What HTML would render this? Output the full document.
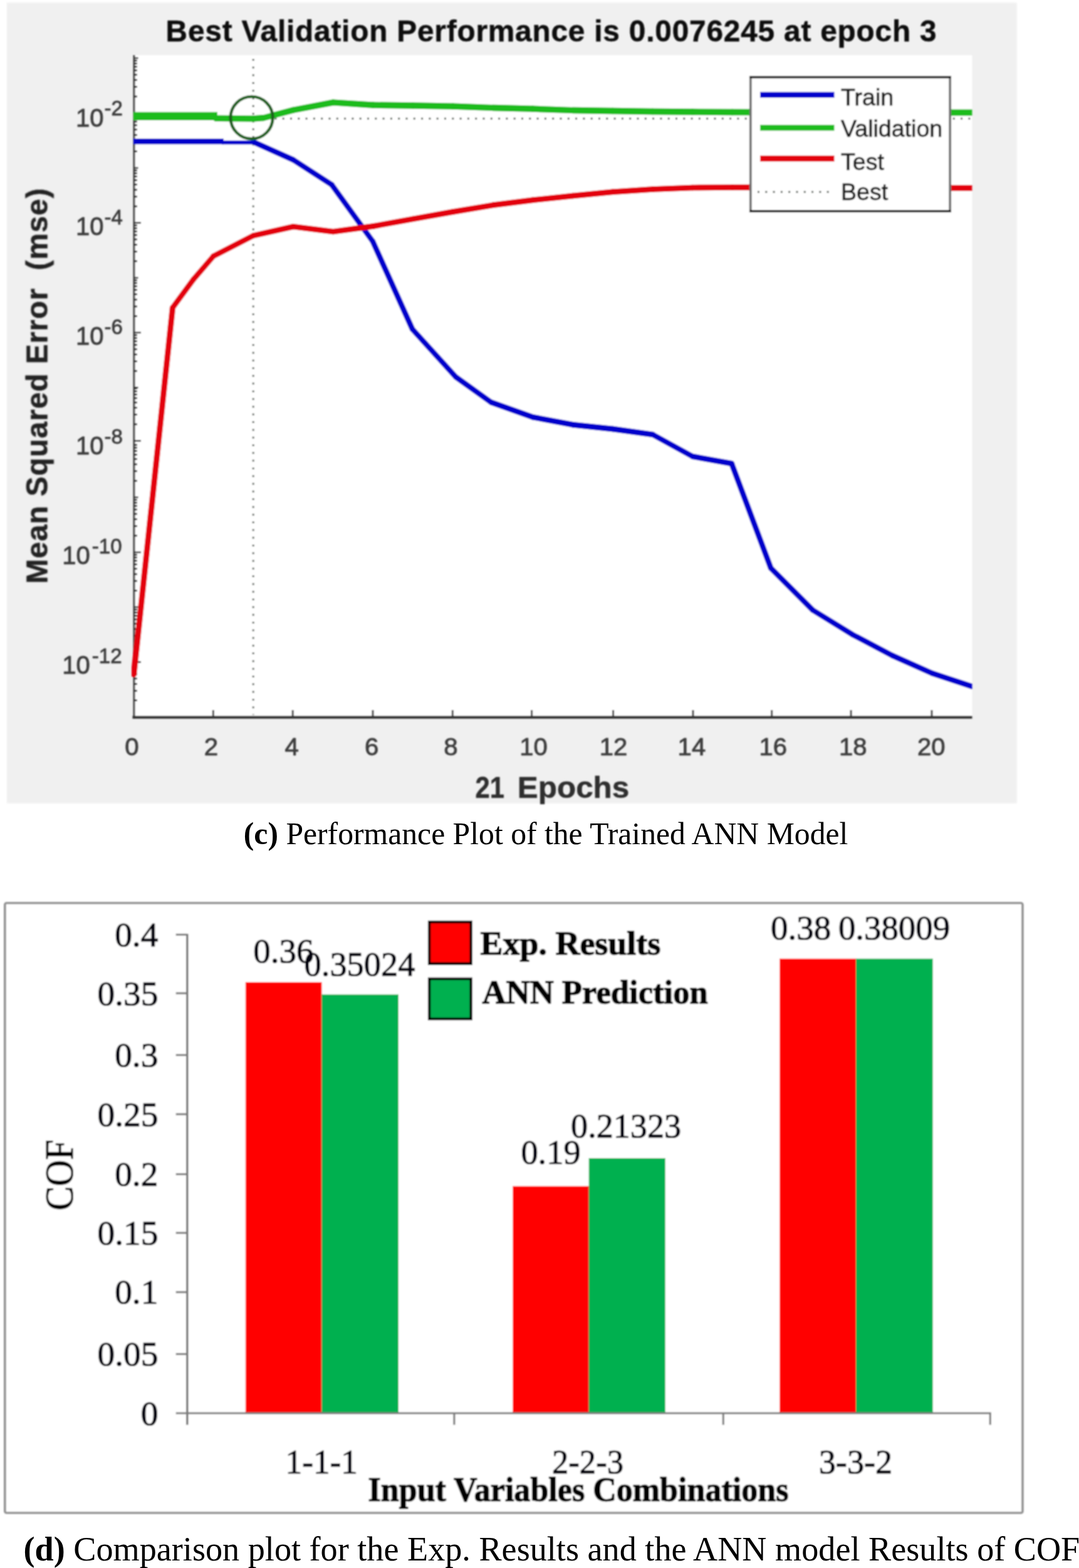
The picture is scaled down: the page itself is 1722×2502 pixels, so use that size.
<!DOCTYPE html>
<html lang="en"><head><meta charset="utf-8"><title>ANN performance plot and COF comparison</title>
<style>
html,body{margin:0;padding:0;background:#fff;}
body{width:1722px;height:2502px;overflow:hidden;position:relative;}
svg{position:absolute;left:0;top:0;display:block;}
.sans{font-family:"Liberation Sans",sans-serif;}
.serif{font-family:"Liberation Serif",serif;}
.b{font-weight:bold;}
.tk{stroke:currentColor;stroke-width:0.5px;stroke-linejoin:round;paint-order:stroke fill;}
.tk3{stroke:currentColor;stroke-width:1.1px;stroke-linejoin:round;paint-order:stroke fill;}
.tk4{stroke:currentColor;stroke-width:1.4px;stroke-linejoin:round;paint-order:stroke fill;}
.tk2{stroke:currentColor;stroke-width:0.85px;stroke-linejoin:round;paint-order:stroke fill;}
</style></head><body>
<svg width="1722" height="2502" viewBox="0 0 1722 2502">
<defs><filter id="soft" x="-2%" y="-2%" width="104%" height="104%"><feGaussianBlur stdDeviation="0.8"/></filter><filter id="soft2" x="-2%" y="-2%" width="104%" height="104%"><feGaussianBlur stdDeviation="1.1"/></filter><filter id="soft3" x="-2%" y="-2%" width="104%" height="104%"><feGaussianBlur stdDeviation="1.5"/></filter></defs>
<rect x="0" y="0" width="1722" height="2502" fill="#ffffff"/>
<rect x="11" y="4.3" width="1611.7" height="1277.4" fill="#f0f0f0" filter="url(#soft3)"/>
<g id="perf" filter="url(#soft)">
<rect x="213" y="88" width="1338.5" height="1056.5" fill="#ffffff"/>
<line x1="404.2" y1="94" x2="404.2" y2="1140.5" stroke="#586058" stroke-width="3" stroke-dasharray="3 9.3"/>
<line x1="217" y1="189.2" x2="1551.5" y2="189.2" stroke="#586058" stroke-width="3" stroke-dasharray="3 9.3"/>
<line x1="214" y1="88" x2="214" y2="1146.3" stroke="#484848" stroke-width="3.2"/>
<line x1="211.5" y1="1144.5" x2="1551.5" y2="1144.5" stroke="#303030" stroke-width="4.6"/>
<line x1="214" y1="1117.6" x2="219" y2="1117.6" stroke="#161616" stroke-width="2.7"/>
<line x1="214" y1="1102.2" x2="219" y2="1102.2" stroke="#161616" stroke-width="2.7"/>
<line x1="214" y1="1091.3" x2="219" y2="1091.3" stroke="#161616" stroke-width="2.7"/>
<line x1="214" y1="1082.8" x2="219" y2="1082.8" stroke="#161616" stroke-width="2.7"/>
<line x1="214" y1="1075.8" x2="219" y2="1075.8" stroke="#161616" stroke-width="2.7"/>
<line x1="214" y1="1070.0" x2="219" y2="1070.0" stroke="#161616" stroke-width="2.7"/>
<line x1="214" y1="1064.9" x2="219" y2="1064.9" stroke="#161616" stroke-width="2.7"/>
<line x1="214" y1="1060.4" x2="219" y2="1060.4" stroke="#161616" stroke-width="2.7"/>
<line x1="214" y1="1056.4" x2="225" y2="1056.4" stroke="#2a2a2a" stroke-width="2.6"/>
<line x1="214" y1="1030.0" x2="219" y2="1030.0" stroke="#161616" stroke-width="2.7"/>
<line x1="214" y1="1014.6" x2="219" y2="1014.6" stroke="#161616" stroke-width="2.7"/>
<line x1="214" y1="1003.7" x2="219" y2="1003.7" stroke="#161616" stroke-width="2.7"/>
<line x1="214" y1="995.2" x2="219" y2="995.2" stroke="#161616" stroke-width="2.7"/>
<line x1="214" y1="988.2" x2="219" y2="988.2" stroke="#161616" stroke-width="2.7"/>
<line x1="214" y1="982.4" x2="219" y2="982.4" stroke="#161616" stroke-width="2.7"/>
<line x1="214" y1="977.3" x2="219" y2="977.3" stroke="#161616" stroke-width="2.7"/>
<line x1="214" y1="972.8" x2="219" y2="972.8" stroke="#161616" stroke-width="2.7"/>
<line x1="214" y1="968.8" x2="220.5" y2="968.8" stroke="#2a2a2a" stroke-width="2.6"/>
<line x1="214" y1="942.4" x2="219" y2="942.4" stroke="#161616" stroke-width="2.7"/>
<line x1="214" y1="927.0" x2="219" y2="927.0" stroke="#161616" stroke-width="2.7"/>
<line x1="214" y1="916.1" x2="219" y2="916.1" stroke="#161616" stroke-width="2.7"/>
<line x1="214" y1="907.6" x2="219" y2="907.6" stroke="#161616" stroke-width="2.7"/>
<line x1="214" y1="900.6" x2="219" y2="900.6" stroke="#161616" stroke-width="2.7"/>
<line x1="214" y1="894.8" x2="219" y2="894.8" stroke="#161616" stroke-width="2.7"/>
<line x1="214" y1="889.7" x2="219" y2="889.7" stroke="#161616" stroke-width="2.7"/>
<line x1="214" y1="885.2" x2="219" y2="885.2" stroke="#161616" stroke-width="2.7"/>
<line x1="214" y1="881.2" x2="225" y2="881.2" stroke="#2a2a2a" stroke-width="2.6"/>
<line x1="214" y1="854.8" x2="219" y2="854.8" stroke="#161616" stroke-width="2.7"/>
<line x1="214" y1="839.4" x2="219" y2="839.4" stroke="#161616" stroke-width="2.7"/>
<line x1="214" y1="828.5" x2="219" y2="828.5" stroke="#161616" stroke-width="2.7"/>
<line x1="214" y1="820.0" x2="219" y2="820.0" stroke="#161616" stroke-width="2.7"/>
<line x1="214" y1="813.0" x2="219" y2="813.0" stroke="#161616" stroke-width="2.7"/>
<line x1="214" y1="807.2" x2="219" y2="807.2" stroke="#161616" stroke-width="2.7"/>
<line x1="214" y1="802.1" x2="219" y2="802.1" stroke="#161616" stroke-width="2.7"/>
<line x1="214" y1="797.6" x2="219" y2="797.6" stroke="#161616" stroke-width="2.7"/>
<line x1="214" y1="793.6" x2="220.5" y2="793.6" stroke="#2a2a2a" stroke-width="2.6"/>
<line x1="214" y1="767.2" x2="219" y2="767.2" stroke="#161616" stroke-width="2.7"/>
<line x1="214" y1="751.8" x2="219" y2="751.8" stroke="#161616" stroke-width="2.7"/>
<line x1="214" y1="740.9" x2="219" y2="740.9" stroke="#161616" stroke-width="2.7"/>
<line x1="214" y1="732.4" x2="219" y2="732.4" stroke="#161616" stroke-width="2.7"/>
<line x1="214" y1="725.4" x2="219" y2="725.4" stroke="#161616" stroke-width="2.7"/>
<line x1="214" y1="719.6" x2="219" y2="719.6" stroke="#161616" stroke-width="2.7"/>
<line x1="214" y1="714.5" x2="219" y2="714.5" stroke="#161616" stroke-width="2.7"/>
<line x1="214" y1="710.0" x2="219" y2="710.0" stroke="#161616" stroke-width="2.7"/>
<line x1="214" y1="703.4" x2="225" y2="703.4" stroke="#2a2a2a" stroke-width="2.6"/>
<line x1="214" y1="677.0" x2="219" y2="677.0" stroke="#161616" stroke-width="2.7"/>
<line x1="214" y1="661.6" x2="219" y2="661.6" stroke="#161616" stroke-width="2.7"/>
<line x1="214" y1="650.7" x2="219" y2="650.7" stroke="#161616" stroke-width="2.7"/>
<line x1="214" y1="642.2" x2="219" y2="642.2" stroke="#161616" stroke-width="2.7"/>
<line x1="214" y1="635.2" x2="219" y2="635.2" stroke="#161616" stroke-width="2.7"/>
<line x1="214" y1="629.4" x2="219" y2="629.4" stroke="#161616" stroke-width="2.7"/>
<line x1="214" y1="624.3" x2="219" y2="624.3" stroke="#161616" stroke-width="2.7"/>
<line x1="214" y1="619.8" x2="219" y2="619.8" stroke="#161616" stroke-width="2.7"/>
<line x1="214" y1="618.4" x2="220.5" y2="618.4" stroke="#2a2a2a" stroke-width="2.6"/>
<line x1="214" y1="592.0" x2="219" y2="592.0" stroke="#161616" stroke-width="2.7"/>
<line x1="214" y1="576.6" x2="219" y2="576.6" stroke="#161616" stroke-width="2.7"/>
<line x1="214" y1="565.7" x2="219" y2="565.7" stroke="#161616" stroke-width="2.7"/>
<line x1="214" y1="557.2" x2="219" y2="557.2" stroke="#161616" stroke-width="2.7"/>
<line x1="214" y1="550.2" x2="219" y2="550.2" stroke="#161616" stroke-width="2.7"/>
<line x1="214" y1="544.4" x2="219" y2="544.4" stroke="#161616" stroke-width="2.7"/>
<line x1="214" y1="539.3" x2="219" y2="539.3" stroke="#161616" stroke-width="2.7"/>
<line x1="214" y1="534.8" x2="219" y2="534.8" stroke="#161616" stroke-width="2.7"/>
<line x1="214" y1="530.8" x2="225" y2="530.8" stroke="#2a2a2a" stroke-width="2.6"/>
<line x1="214" y1="504.4" x2="219" y2="504.4" stroke="#161616" stroke-width="2.7"/>
<line x1="214" y1="489.0" x2="219" y2="489.0" stroke="#161616" stroke-width="2.7"/>
<line x1="214" y1="478.1" x2="219" y2="478.1" stroke="#161616" stroke-width="2.7"/>
<line x1="214" y1="469.6" x2="219" y2="469.6" stroke="#161616" stroke-width="2.7"/>
<line x1="214" y1="462.6" x2="219" y2="462.6" stroke="#161616" stroke-width="2.7"/>
<line x1="214" y1="456.8" x2="219" y2="456.8" stroke="#161616" stroke-width="2.7"/>
<line x1="214" y1="451.7" x2="219" y2="451.7" stroke="#161616" stroke-width="2.7"/>
<line x1="214" y1="447.2" x2="219" y2="447.2" stroke="#161616" stroke-width="2.7"/>
<line x1="214" y1="443.2" x2="220.5" y2="443.2" stroke="#2a2a2a" stroke-width="2.6"/>
<line x1="214" y1="416.8" x2="219" y2="416.8" stroke="#161616" stroke-width="2.7"/>
<line x1="214" y1="401.4" x2="219" y2="401.4" stroke="#161616" stroke-width="2.7"/>
<line x1="214" y1="390.5" x2="219" y2="390.5" stroke="#161616" stroke-width="2.7"/>
<line x1="214" y1="382.0" x2="219" y2="382.0" stroke="#161616" stroke-width="2.7"/>
<line x1="214" y1="375.0" x2="219" y2="375.0" stroke="#161616" stroke-width="2.7"/>
<line x1="214" y1="369.2" x2="219" y2="369.2" stroke="#161616" stroke-width="2.7"/>
<line x1="214" y1="364.1" x2="219" y2="364.1" stroke="#161616" stroke-width="2.7"/>
<line x1="214" y1="359.6" x2="219" y2="359.6" stroke="#161616" stroke-width="2.7"/>
<line x1="214" y1="355.6" x2="225" y2="355.6" stroke="#2a2a2a" stroke-width="2.6"/>
<line x1="214" y1="329.2" x2="219" y2="329.2" stroke="#161616" stroke-width="2.7"/>
<line x1="214" y1="313.8" x2="219" y2="313.8" stroke="#161616" stroke-width="2.7"/>
<line x1="214" y1="302.9" x2="219" y2="302.9" stroke="#161616" stroke-width="2.7"/>
<line x1="214" y1="294.4" x2="219" y2="294.4" stroke="#161616" stroke-width="2.7"/>
<line x1="214" y1="287.4" x2="219" y2="287.4" stroke="#161616" stroke-width="2.7"/>
<line x1="214" y1="281.6" x2="219" y2="281.6" stroke="#161616" stroke-width="2.7"/>
<line x1="214" y1="276.5" x2="219" y2="276.5" stroke="#161616" stroke-width="2.7"/>
<line x1="214" y1="272.0" x2="219" y2="272.0" stroke="#161616" stroke-width="2.7"/>
<line x1="214" y1="268.0" x2="220.5" y2="268.0" stroke="#2a2a2a" stroke-width="2.6"/>
<line x1="214" y1="241.6" x2="219" y2="241.6" stroke="#161616" stroke-width="2.7"/>
<line x1="214" y1="226.2" x2="219" y2="226.2" stroke="#161616" stroke-width="2.7"/>
<line x1="214" y1="215.3" x2="219" y2="215.3" stroke="#161616" stroke-width="2.7"/>
<line x1="214" y1="206.8" x2="219" y2="206.8" stroke="#161616" stroke-width="2.7"/>
<line x1="214" y1="199.8" x2="219" y2="199.8" stroke="#161616" stroke-width="2.7"/>
<line x1="214" y1="194.0" x2="219" y2="194.0" stroke="#161616" stroke-width="2.7"/>
<line x1="214" y1="188.9" x2="219" y2="188.9" stroke="#161616" stroke-width="2.7"/>
<line x1="214" y1="184.4" x2="219" y2="184.4" stroke="#161616" stroke-width="2.7"/>
<line x1="214" y1="180.4" x2="225" y2="180.4" stroke="#2a2a2a" stroke-width="2.6"/>
<line x1="214" y1="154.0" x2="219" y2="154.0" stroke="#161616" stroke-width="2.7"/>
<line x1="214" y1="138.6" x2="219" y2="138.6" stroke="#161616" stroke-width="2.7"/>
<line x1="214" y1="127.7" x2="219" y2="127.7" stroke="#161616" stroke-width="2.7"/>
<line x1="214" y1="119.2" x2="219" y2="119.2" stroke="#161616" stroke-width="2.7"/>
<line x1="214" y1="112.2" x2="219" y2="112.2" stroke="#161616" stroke-width="2.7"/>
<line x1="214" y1="106.4" x2="219" y2="106.4" stroke="#161616" stroke-width="2.7"/>
<line x1="214" y1="101.3" x2="219" y2="101.3" stroke="#161616" stroke-width="2.7"/>
<line x1="214" y1="96.8" x2="219" y2="96.8" stroke="#161616" stroke-width="2.7"/>
<line x1="214" y1="92.8" x2="220.5" y2="92.8" stroke="#2a2a2a" stroke-width="2.6"/>
<line x1="340.3" y1="1144.5" x2="340.3" y2="1133.0" stroke="#383838" stroke-width="3"/>
<line x1="467.2" y1="1144.5" x2="467.2" y2="1133.0" stroke="#383838" stroke-width="3"/>
<line x1="595.0" y1="1144.5" x2="595.0" y2="1133.0" stroke="#383838" stroke-width="3"/>
<line x1="722.3" y1="1144.5" x2="722.3" y2="1133.0" stroke="#383838" stroke-width="3"/>
<line x1="848.6" y1="1144.5" x2="848.6" y2="1133.0" stroke="#383838" stroke-width="3"/>
<line x1="978.6" y1="1144.5" x2="978.6" y2="1133.0" stroke="#383838" stroke-width="3"/>
<line x1="1106.0" y1="1144.5" x2="1106.0" y2="1133.0" stroke="#383838" stroke-width="3"/>
<line x1="1231.7" y1="1144.5" x2="1231.7" y2="1133.0" stroke="#383838" stroke-width="3"/>
<line x1="1358.1" y1="1144.5" x2="1358.1" y2="1133.0" stroke="#383838" stroke-width="3"/>
<line x1="1487.0" y1="1144.5" x2="1487.0" y2="1133.0" stroke="#383838" stroke-width="3"/>
<clipPath id="pc"><rect x="210" y="88" width="1341.5" height="1056.5"/></clipPath>
<g clip-path="url(#pc)">
<line x1="213" y1="225.7" x2="357" y2="225.7" stroke="#0000cc" stroke-width="9.3"/>
<line x1="354" y1="227.3" x2="405.2" y2="227.3" stroke="#0000cc" stroke-width="6.2"/>
<g fill="none" stroke="#0000cc" stroke-linecap="round">
<line x1="404.2" y1="226.4" x2="468.0" y2="255.0" stroke-width="9.10"/>
<line x1="468.0" y1="255.0" x2="529.5" y2="294.8" stroke-width="8.97"/>
<line x1="529.5" y1="294.8" x2="594.8" y2="385.0" stroke-width="8.94"/>
<line x1="594.8" y1="385.0" x2="658.2" y2="525.3" stroke-width="9.10"/>
<line x1="658.2" y1="525.3" x2="727.4" y2="601.5" stroke-width="8.90"/>
<line x1="727.4" y1="601.5" x2="783.7" y2="641.8" stroke-width="8.94"/>
<line x1="783.7" y1="641.8" x2="850.4" y2="665.6" stroke-width="9.19"/>
<line x1="850.4" y1="665.6" x2="914.1" y2="677.7" stroke-width="9.41"/>
<line x1="914.1" y1="677.7" x2="977.9" y2="684.5" stroke-width="9.53"/>
<line x1="977.9" y1="684.5" x2="1041.6" y2="693.4" stroke-width="9.48"/>
<line x1="1041.6" y1="693.4" x2="1105.4" y2="728.4" stroke-width="9.02"/>
<line x1="1105.4" y1="728.4" x2="1167.6" y2="739.6" stroke-width="9.42"/>
<line x1="1167.6" y1="739.6" x2="1230.2" y2="906.5" stroke-width="9.17"/>
<line x1="1230.2" y1="906.5" x2="1297.1" y2="973.5" stroke-width="8.90"/>
<line x1="1297.1" y1="973.5" x2="1360.3" y2="1012.4" stroke-width="8.99"/>
<line x1="1360.3" y1="1012.4" x2="1424.1" y2="1046.0" stroke-width="9.04"/>
<line x1="1424.1" y1="1046.0" x2="1487.8" y2="1074.4" stroke-width="9.11"/>
<line x1="1487.8" y1="1074.4" x2="1551.5" y2="1095.4" stroke-width="9.22"/>
</g>
<line x1="213" y1="185.35" x2="347" y2="185.35" stroke="#1cbc1c" stroke-width="13.3"/>
<g fill="none" stroke="#1cbc1c" stroke-linecap="round">
<line x1="344.9" y1="188.8" x2="404.2" y2="189.3" stroke-width="10.29"/>
<line x1="404.2" y1="189.3" x2="420.2" y2="188.2" stroke-width="10.19"/>
<line x1="420.2" y1="188.2" x2="468.0" y2="175.6" stroke-width="9.91"/>
<line x1="468.0" y1="175.6" x2="531.7" y2="163.5" stroke-width="10.01"/>
<line x1="531.7" y1="163.5" x2="595.4" y2="167.6" stroke-width="10.20"/>
<line x1="595.4" y1="167.6" x2="659.2" y2="168.5" stroke-width="10.28"/>
<line x1="659.2" y1="168.5" x2="722.9" y2="169.7" stroke-width="10.27"/>
<line x1="722.9" y1="169.7" x2="786.7" y2="172.0" stroke-width="10.24"/>
<line x1="786.7" y1="172.0" x2="850.4" y2="173.7" stroke-width="10.26"/>
<line x1="850.4" y1="173.7" x2="914.1" y2="176.0" stroke-width="10.24"/>
<line x1="914.1" y1="176.0" x2="977.9" y2="177.0" stroke-width="10.27"/>
<line x1="977.9" y1="177.0" x2="1041.6" y2="178.0" stroke-width="10.27"/>
<line x1="1041.6" y1="178.0" x2="1105.4" y2="178.5" stroke-width="10.29"/>
<line x1="1105.4" y1="178.5" x2="1169.1" y2="179.0" stroke-width="10.29"/>
<line x1="1169.1" y1="179.0" x2="1232.8" y2="179.2" stroke-width="10.29"/>
<line x1="1232.8" y1="179.2" x2="1296.6" y2="179.4" stroke-width="10.29"/>
<line x1="1296.6" y1="179.4" x2="1360.3" y2="179.5" stroke-width="10.30"/>
<line x1="1360.3" y1="179.5" x2="1424.1" y2="179.6" stroke-width="10.30"/>
<line x1="1424.1" y1="179.6" x2="1487.8" y2="179.7" stroke-width="10.30"/>
<line x1="1487.8" y1="179.7" x2="1551.5" y2="179.7" stroke-width="10.30"/>
</g>
<g fill="none" stroke="#e3000f" stroke-linecap="round">
<line x1="213.6" y1="1076.0" x2="275.5" y2="491.0" stroke-width="9.53"/>
<line x1="275.5" y1="491.0" x2="308.6" y2="446.0" stroke-width="8.94"/>
<line x1="308.6" y1="446.0" x2="340.5" y2="408.8" stroke-width="8.91"/>
<line x1="340.5" y1="408.8" x2="404.2" y2="376.0" stroke-width="9.05"/>
<line x1="404.2" y1="376.0" x2="468.0" y2="361.6" stroke-width="9.36"/>
<line x1="468.0" y1="361.6" x2="531.7" y2="369.6" stroke-width="9.50"/>
<line x1="531.7" y1="369.6" x2="595.4" y2="361.0" stroke-width="9.49"/>
<line x1="595.4" y1="361.0" x2="659.2" y2="349.4" stroke-width="9.42"/>
<line x1="659.2" y1="349.4" x2="722.9" y2="338.0" stroke-width="9.42"/>
<line x1="722.9" y1="338.0" x2="786.7" y2="327.3" stroke-width="9.44"/>
<line x1="786.7" y1="327.3" x2="850.4" y2="319.2" stroke-width="9.50"/>
<line x1="850.4" y1="319.2" x2="914.1" y2="312.5" stroke-width="9.53"/>
<line x1="914.1" y1="312.5" x2="977.9" y2="306.3" stroke-width="9.55"/>
<line x1="977.9" y1="306.3" x2="1041.6" y2="302.0" stroke-width="9.59"/>
<line x1="1041.6" y1="302.0" x2="1105.4" y2="299.5" stroke-width="9.64"/>
<line x1="1105.4" y1="299.5" x2="1169.1" y2="299.0" stroke-width="9.69"/>
<line x1="1169.1" y1="299.0" x2="1232.8" y2="299.0" stroke-width="9.70"/>
<line x1="1232.8" y1="299.0" x2="1296.6" y2="299.3" stroke-width="9.69"/>
<line x1="1296.6" y1="299.3" x2="1360.3" y2="299.5" stroke-width="9.69"/>
<line x1="1360.3" y1="299.5" x2="1424.1" y2="299.7" stroke-width="9.69"/>
<line x1="1424.1" y1="299.7" x2="1487.8" y2="300.0" stroke-width="9.69"/>
<line x1="1487.8" y1="300.0" x2="1551.5" y2="300.0" stroke-width="9.70"/>
</g>
</g>
<circle cx="401.6" cy="187.8" r="33.7" fill="none" stroke="#1a601a" stroke-width="4.9"/>
<rect x="1197.8" y="123.3" width="318.4" height="213.6" fill="#ffffff" stroke="#6c6c6c" stroke-width="3.8"/>
<line x1="1196" y1="123.3" x2="1518" y2="123.3" stroke="#101010" stroke-width="3.6"/>
<line x1="1196" y1="336.9" x2="1518" y2="336.9" stroke="#101010" stroke-width="3.6"/>
<line x1="1213" y1="151.4" x2="1331.5" y2="151.4" stroke="#0000cc" stroke-width="9.4"/>
<line x1="1213" y1="203.9" x2="1331.5" y2="203.9" stroke="#1cbc1c" stroke-width="9.4"/>
<line x1="1213" y1="253" x2="1331.5" y2="253" stroke="#e3000f" stroke-width="9.4"/>
<line x1="1209" y1="306.3" x2="1326" y2="306.3" stroke="#586058" stroke-width="3" stroke-dasharray="3 9.3"/>
<text class="sans tk2" x="1342" y="168.4" font-size="37.6" fill="#1c1c1c" color="#1c1c1c">Train</text>
<text class="sans tk2" x="1342" y="218.2" font-size="37.6" fill="#1c1c1c" color="#1c1c1c">Validation</text>
<text class="sans tk2" x="1342" y="270.8" font-size="37.6" fill="#1c1c1c" color="#1c1c1c">Test</text>
<text class="sans tk2" x="1342" y="319.3" font-size="37.6" fill="#1c1c1c" color="#1c1c1c">Best</text>
<text class="sans b tk" x="264.6" y="66" font-size="47.8" textLength="1230" lengthAdjust="spacing" fill="#101010" color="#101010">Best Validation Performance is 0.0076245 at epoch 3</text>
<text class="sans b tk" y="1272.6" font-size="47.4" fill="#2e2e2e" color="#2e2e2e"><tspan x="758.6" textLength="46.5" lengthAdjust="spacingAndGlyphs">21</tspan> <tspan x="825.8" textLength="178.5" lengthAdjust="spacingAndGlyphs">Epochs</tspan></text>
<text class="sans b tk" transform="translate(75.5 931.5) rotate(-90)" font-size="47.4" textLength="631" lengthAdjust="spacing" fill="#222" color="#222" xml:space="preserve">Mean Squared Error  (mse)</text>
<text class="sans tk2" x="199.3" y="1204.7" font-size="38" textLength="22.4" lengthAdjust="spacingAndGlyphs" fill="#3c3c3c" color="#3c3c3c">0</text>
<text class="sans tk2" x="325.8" y="1204.7" font-size="38" textLength="22.4" lengthAdjust="spacingAndGlyphs" fill="#3c3c3c" color="#3c3c3c">2</text>
<text class="sans tk2" x="454.6" y="1204.7" font-size="38" textLength="22.4" lengthAdjust="spacingAndGlyphs" fill="#3c3c3c" color="#3c3c3c">4</text>
<text class="sans tk2" x="582.0" y="1204.7" font-size="38" textLength="22.4" lengthAdjust="spacingAndGlyphs" fill="#3c3c3c" color="#3c3c3c">6</text>
<text class="sans tk2" x="708.2" y="1204.7" font-size="38" textLength="22.4" lengthAdjust="spacingAndGlyphs" fill="#3c3c3c" color="#3c3c3c">8</text>
<text class="sans tk2" x="829.3" y="1204.7" font-size="38" textLength="44.6" lengthAdjust="spacingAndGlyphs" fill="#3c3c3c" color="#3c3c3c">10</text>
<text class="sans tk2" x="956.8" y="1204.7" font-size="38" textLength="44.6" lengthAdjust="spacingAndGlyphs" fill="#3c3c3c" color="#3c3c3c">12</text>
<text class="sans tk2" x="1081.6" y="1204.7" font-size="38" textLength="44.6" lengthAdjust="spacingAndGlyphs" fill="#3c3c3c" color="#3c3c3c">14</text>
<text class="sans tk2" x="1211.5" y="1204.7" font-size="38" textLength="44.6" lengthAdjust="spacingAndGlyphs" fill="#3c3c3c" color="#3c3c3c">16</text>
<text class="sans tk2" x="1339.0" y="1204.7" font-size="38" textLength="44.6" lengthAdjust="spacingAndGlyphs" fill="#3c3c3c" color="#3c3c3c">18</text>
<text class="sans tk2" x="1464.0" y="1204.7" font-size="38" textLength="44.6" lengthAdjust="spacingAndGlyphs" fill="#3c3c3c" color="#3c3c3c">20</text>
<text class="sans tk2" x="165.4" y="202.0" font-size="40" text-anchor="end" fill="#3c3c3c" color="#3c3c3c">10</text>
<text class="sans tk2" x="195.8" y="184.0" font-size="33" text-anchor="end" fill="#3c3c3c" color="#3c3c3c">-2</text>
<text class="sans tk2" x="165.4" y="375.0" font-size="40" text-anchor="end" fill="#3c3c3c" color="#3c3c3c">10</text>
<text class="sans tk2" x="195.8" y="357.5" font-size="33" text-anchor="end" fill="#3c3c3c" color="#3c3c3c">-4</text>
<text class="sans tk2" x="165.4" y="550.2" font-size="40" text-anchor="end" fill="#3c3c3c" color="#3c3c3c">10</text>
<text class="sans tk2" x="195.8" y="532.7" font-size="33" text-anchor="end" fill="#3c3c3c" color="#3c3c3c">-6</text>
<text class="sans tk2" x="165.4" y="725.4" font-size="40" text-anchor="end" fill="#3c3c3c" color="#3c3c3c">10</text>
<text class="sans tk2" x="195.8" y="707.9" font-size="33" text-anchor="end" fill="#3c3c3c" color="#3c3c3c">-8</text>
<text class="sans tk2" x="143.7" y="900.2" font-size="40" text-anchor="end" fill="#3c3c3c" color="#3c3c3c">10</text>
<text class="sans tk2" x="194.5" y="882.8" font-size="33" text-anchor="end" fill="#3c3c3c" color="#3c3c3c">-10</text>
<text class="sans tk2" x="143.7" y="1075.4" font-size="40" text-anchor="end" fill="#3c3c3c" color="#3c3c3c">10</text>
<text class="sans tk2" x="194.5" y="1058.0" font-size="33" text-anchor="end" fill="#3c3c3c" color="#3c3c3c">-12</text>
</g>
<text class="serif" x="388.8" y="1347.4" font-size="49.7" fill="#000"><tspan class="b">(c)</tspan> Performance Plot of the Trained ANN Model</text>
<g id="bars" filter="url(#soft2)">
<rect x="7.9" y="1441" width="1624" height="973" rx="2.5" ry="2.5" fill="#ffffff" stroke="#929292" stroke-width="3.7"/>
<rect x="391.8" y="1567.3" width="121.7" height="686.9" fill="#ff0000"/>
<rect x="513.5" y="1586.8" width="122.5" height="667.4" fill="#00b050"/>
<rect x="818.3" y="1892.7" width="121.4" height="361.5" fill="#ff0000"/>
<rect x="939.7" y="1848" width="122.1" height="406.2" fill="#00b050"/>
<rect x="1244" y="1529.7" width="122.0" height="724.5" fill="#ff0000"/>
<rect x="1366" y="1529.7" width="122.7" height="724.5" fill="#00b050"/>
<line x1="298.8" y1="1490" x2="298.8" y2="2273.5" stroke="#707070" stroke-width="3.4"/>
<line x1="280.7" y1="2255" x2="1581.8" y2="2255" stroke="#7c7c7c" stroke-width="3.2"/>
<line x1="280.7" y1="2160.6" x2="298.8" y2="2160.6" stroke="#7c7c7c" stroke-width="3.2"/>
<line x1="280.7" y1="2061.8" x2="298.8" y2="2061.8" stroke="#7c7c7c" stroke-width="3.2"/>
<line x1="280.7" y1="1967.3" x2="298.8" y2="1967.3" stroke="#7c7c7c" stroke-width="3.2"/>
<line x1="280.7" y1="1873.6" x2="298.8" y2="1873.6" stroke="#7c7c7c" stroke-width="3.2"/>
<line x1="280.7" y1="1777.9" x2="298.8" y2="1777.9" stroke="#7c7c7c" stroke-width="3.2"/>
<line x1="280.7" y1="1683.5" x2="298.8" y2="1683.5" stroke="#7c7c7c" stroke-width="3.2"/>
<line x1="280.7" y1="1584.9" x2="298.8" y2="1584.9" stroke="#7c7c7c" stroke-width="3.2"/>
<line x1="280.7" y1="1491.4" x2="298.8" y2="1491.4" stroke="#7c7c7c" stroke-width="3.2"/>
<line x1="724.9" y1="2255" x2="724.9" y2="2273.5" stroke="#7c7c7c" stroke-width="3.2"/>
<line x1="1154.3" y1="2255" x2="1154.3" y2="2273.5" stroke="#7c7c7c" stroke-width="3.2"/>
<line x1="1580.3" y1="2255" x2="1580.3" y2="2273.5" stroke="#7c7c7c" stroke-width="3.2"/>
<text class="serif tk3" x="252.4" y="2273.5" font-size="55.4" text-anchor="end" fill="#05050c" color="#05050c">0</text>
<text class="serif tk3" x="252.4" y="2179.2" font-size="55.4" text-anchor="end" fill="#05050c" color="#05050c">0.05</text>
<text class="serif tk3" x="252.4" y="2080.4" font-size="55.4" text-anchor="end" fill="#05050c" color="#05050c">0.1</text>
<text class="serif tk3" x="252.4" y="1985.9" font-size="55.4" text-anchor="end" fill="#05050c" color="#05050c">0.15</text>
<text class="serif tk3" x="252.4" y="1892.2" font-size="55.4" text-anchor="end" fill="#05050c" color="#05050c">0.2</text>
<text class="serif tk3" x="252.4" y="1796.5" font-size="55.4" text-anchor="end" fill="#05050c" color="#05050c">0.25</text>
<text class="serif tk3" x="252.4" y="1702.1" font-size="55.4" text-anchor="end" fill="#05050c" color="#05050c">0.3</text>
<text class="serif tk3" x="252.4" y="1603.5" font-size="55.4" text-anchor="end" fill="#05050c" color="#05050c">0.35</text>
<text class="serif tk3" x="252.4" y="1510.0" font-size="55.4" text-anchor="end" fill="#05050c" color="#05050c">0.4</text>
<text class="serif tk3" x="404.2" y="1535.9" font-size="55.9" textLength="96.2" lengthAdjust="spacingAndGlyphs" fill="#05050c" color="#05050c">0.36</text>
<text class="serif tk3" x="485.6" y="1556.6" font-size="55.9" textLength="176.8" lengthAdjust="spacingAndGlyphs" fill="#05050c" color="#05050c">0.35024</text>
<text class="serif tk3" x="831.4" y="1857.4" font-size="55.9" textLength="95.3" lengthAdjust="spacingAndGlyphs" fill="#05050c" color="#05050c">0.19</text>
<text class="serif tk3" x="911.1" y="1815.0" font-size="55.9" textLength="176.0" lengthAdjust="spacingAndGlyphs" fill="#05050c" color="#05050c">0.21323</text>
<text class="serif tk3" x="1229.9" y="1498.7" font-size="55.9" textLength="96.5" lengthAdjust="spacingAndGlyphs" fill="#05050c" color="#05050c">0.38</text>
<text class="serif tk3" x="1337.9" y="1498.7" font-size="55.9" textLength="178.2" lengthAdjust="spacingAndGlyphs" fill="#05050c" color="#05050c">0.38009</text>
<text class="serif tk3" x="455.6" y="2351.4" font-size="55.9" textLength="115.4" lengthAdjust="spacingAndGlyphs" fill="#05050c" color="#05050c">1-1-1</text>
<text class="serif tk3" x="880.9" y="2351.4" font-size="55.9" textLength="114.2" lengthAdjust="spacingAndGlyphs" fill="#05050c" color="#05050c">2-2-3</text>
<text class="serif tk3" x="1306.7" y="2351.4" font-size="55.9" textLength="117.5" lengthAdjust="spacingAndGlyphs" fill="#05050c" color="#05050c">3-3-2</text>
<text class="serif b tk4" x="587.5" y="2395.3" font-size="54" textLength="671.0" lengthAdjust="spacingAndGlyphs" fill="#000" color="#000">Input Variables Combinations</text>
<text class="serif b tk4" x="766.5" y="1522.8" font-size="53" textLength="287.8" lengthAdjust="spacingAndGlyphs" fill="#000" color="#000">Exp. Results</text>
<text class="serif b tk4" x="769.6" y="1600.9" font-size="53" textLength="360.2" lengthAdjust="spacingAndGlyphs" fill="#000" color="#000">ANN Prediction</text>
<rect x="685.1" y="1471.1" width="66.6" height="66.6" fill="#ff0000" stroke="#000" stroke-width="4.4"/>
<rect x="685.1" y="1561.9" width="66.6" height="64" fill="#00b050" stroke="#000" stroke-width="4.4"/>
<text class="serif tk3" color="#000" transform="translate(115.7 1875) rotate(-90)" font-size="63" text-anchor="middle" textLength="113" lengthAdjust="spacingAndGlyphs" fill="#000">COF</text>
</g>
<text class="serif" x="37.5" y="2490" font-size="54.2" fill="#000"><tspan class="b">(d)</tspan> Comparison plot for the Exp. Results and the ANN model Results of COF</text>
</svg></body></html>
